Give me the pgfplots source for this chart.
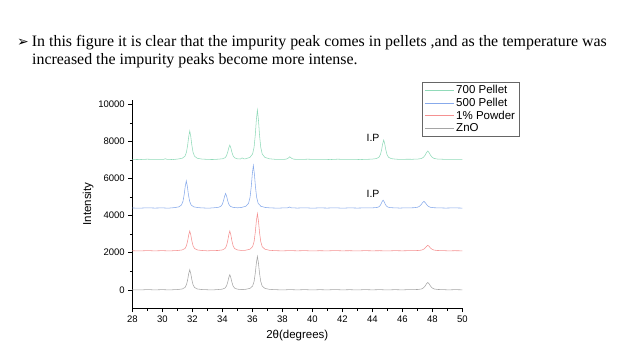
\documentclass[border=0pt]{standalone}
\usepackage{pgfplots}
\pgfplotsset{compat=1.18}
\usepackage{fontspec}
\setmainfont{Liberation Sans}
\newfontfamily\titlefont{Liberation Serif}
\newfontfamily\dejavu{DejaVu Sans}
\definecolor{cgreen}{RGB}{145,218,185}
\definecolor{cblue}{RGB}{135,170,235}
\definecolor{cred}{RGB}{245,145,145}
\definecolor{cgray}{RGB}{165,165,165}
\begin{document}
\begin{tikzpicture}
\useasboundingbox (0,0) rectangle (638bp,359bp);
\node[anchor=base west, inner sep=0pt, font=\titlefont\fontsize{15.9bp}{18bp}\selectfont] at (17bp,312bp) {{\dejavu\fontsize{14bp}{16bp}\selectfont ➢}\hspace{3bp}In this figure it is clear that the impurity peak comes in pellets ,and as the temperature was};
\node[anchor=base west, inner sep=0pt, font=\titlefont\fontsize{15.9bp}{18bp}\selectfont] at (32bp,294bp) {increased the impurity peaks become more intense.};
\begin{axis}[
  at={(132.3bp,50.7bp)}, anchor=south west,
  scale only axis, width=330bp, height=208.3bp,
  xmin=28, xmax=50, ymin=-1000, ymax=10232,
  axis lines=left, axis line style={-, black, line width=0.6pt},
  xtick={28,30,...,50}, minor x tick num=1,
  ytick={0,2000,...,10000}, minor y tick num=1,
  tick align=outside, major tick length=4bp, minor tick length=2.5bp,
  tick style={black, line width=0.5pt},
  scaled y ticks=false,
  /pgf/number format/assume math mode=true,
  yticklabel style={/pgf/number format/1000 sep={}},
  ticklabel style={font=\fontsize{9.5bp}{11bp}\selectfont},
  xlabel={2θ(degrees)}, ylabel={Intensity},
  label style={font=\fontsize{11.5bp}{13bp}\selectfont},
  xlabel style={yshift=-1bp},
  ylabel style={yshift=-2bp},
  legend cell align=left,
  legend style={at={(axis description cs:1.1727,1.0874)}, anchor=north east,
    draw=black!60, line width=0.5pt, font=\fontsize{11.5bp}{12bp}\selectfont,
    row sep=-1.2bp, inner xsep=2bp, inner ysep=1.5bp},
  legend image post style={line width=0.6pt},
  legend image code/.code={\draw[#1] (0bp,0bp) -- (29bp,0bp);},
  every axis plot/.append style={line width=0.55pt},
  clip=false,
]
% 700 Pellet
\addplot[cgreen] coordinates {
(28,7030)(28.5,7020)(29,7040)(29.5,7025)(30.1,7035)(30.2,7065)(30.3,7035)(30.7,7020)
(31.03,7048)(31.33,7091)(31.51,7198)(31.61,7413)(31.69,7795)(31.76,8254)(31.83,8560)(31.90,8254)(31.97,7795)(32.05,7413)(32.15,7198)(32.33,7091)(32.63,7048)
(33.0,7030)(33.35,7022)
(33.7,7039)(34.0,7061)(34.18,7115)(34.28,7223)(34.36,7415)(34.43,7646)(34.5,7800)(34.57,7646)(34.64,7415)(34.72,7223)(34.82,7115)(35.0,7061)
(35.2,7050)(35.32,7110)(35.44,7058)
(35.54,7062)(35.84,7136)(36.02,7323)(36.12,7695)(36.2,8360)(36.27,9158)(36.34,9690)(36.41,9158)(36.48,8360)(36.56,7695)(36.66,7323)(36.84,7136)(37.14,7062)
(37.5,7035)(37.9,7025)(38.25,7040)(38.38,7090)(38.5,7170)(38.62,7090)(38.75,7040)
(39.2,7025)(39.7,7040)(40.2,7025)(40.7,7035)(41.2,7020)(41.7,7040)(42.2,7025)(42.7,7035)(43.2,7020)(43.6,7032)
(43.96,7042)(44.26,7072)(44.44,7144)(44.54,7290)(44.62,7550)(44.69,7862)(44.76,8070)(44.83,7862)(44.90,7550)(44.98,7290)(45.08,7144)(45.26,7072)(45.56,7042)
(45.9,7025)(46.3,7038)
(46.66,7035)(47.05,7048)(47.28,7080)(47.41,7143)(47.52,7255)(47.61,7390)(47.7,7480)(47.79,7390)(47.88,7255)(47.99,7143)(48.12,7080)(48.35,7048)(48.74,7035)
(49.1,7025)(49.5,7035)(50,7025)
};
\addlegendentry{700 Pellet}
% 500 Pellet
\addplot[cblue] coordinates {
(28,4410)(28.5,4400)(29,4420)(29.5,4405)(30,4415)(30.4,4400)
(30.8,4428)(31.1,4468)(31.28,4571)(31.38,4775)(31.46,5140)(31.53,5578)(31.6,5870)(31.67,5578)(31.74,5140)(31.82,4775)(31.92,4571)(32.1,4468)(32.4,4428)
(32.75,4410)(33.1,4400)
(33.42,4419)(33.72,4441)(33.9,4496)(34.0,4605)(34.08,4800)(34.15,5034)(34.22,5190)(34.29,5034)(34.36,4800)(34.44,4605)(34.54,4496)(34.72,4441)(35.02,4419)
(35.27,4437)(35.57,4502)(35.75,4662)(35.85,4983)(35.93,5555)(36.0,6242)(36.07,6700)(36.14,6242)(36.21,5555)(36.29,4983)(36.39,4662)(36.57,4502)(36.87,4437)
(37.2,4415)(37.7,4400)(38.1,4415)(38.35,4420)(38.48,4460)(38.6,4420)
(39,4405)(39.5,4420)(40,4400)(40.5,4415)(41,4405)(41.5,4420)(42,4400)(42.5,4415)(43,4405)(43.5,4415)
(43.92,4415)(44.22,4427)(44.4,4456)(44.5,4515)(44.58,4620)(44.65,4746)(44.72,4830)(44.79,4746)(44.86,4620)(44.94,4515)(45.04,4456)(45.22,4427)(45.52,4415)
(45.85,4405)(46.15,4415)
(46.4,4414)(46.79,4424)(47.02,4450)(47.15,4500)(47.26,4590)(47.35,4698)(47.44,4770)(47.53,4698)(47.62,4590)(47.73,4500)(47.86,4450)(48.09,4424)(48.48,4414)
(48.9,4405)(49.4,4415)(50,4405)
};
\addlegendentry{500 Pellet}
% 1% Powder
\addplot[cred] coordinates {
(28,2105)(28.5,2095)(29,2110)(29.5,2098)(30,2108)(30.5,2095)
(31.03,2118)(31.33,2147)(31.51,2222)(31.61,2370)(31.69,2635)(31.76,2953)(31.83,3165)(31.90,2953)(31.97,2635)(32.05,2370)(32.15,2222)(32.33,2147)(32.63,2118)
(33.0,2100)(33.35,2110)
(33.7,2118)(34.0,2147)(34.18,2222)(34.28,2370)(34.36,2635)(34.43,2953)(34.5,3165)(34.57,2953)(34.64,2635)(34.72,2370)(34.82,2222)(35.0,2147)(35.3,2118)
(35.54,2129)(35.84,2185)(36.02,2325)(36.12,2605)(36.2,3105)(36.27,3705)(36.34,4105)(36.41,3705)(36.48,3105)(36.56,2605)(36.66,2325)(36.84,2185)(37.14,2129)
(37.5,2108)(38,2098)(38.5,2110)(39,2100)(39.5,2108)(40,2095)(40.5,2105)(41,2098)(41.5,2110)(42,2100)(42.5,2105)(43,2095)(43.5,2108)(44,2100)(44.5,2105)(45,2095)(45.5,2108)(46,2100)(46.3,2105)
(46.66,2108)(47.05,2117)(47.28,2137)(47.41,2178)(47.52,2250)(47.61,2337)(47.7,2395)(47.79,2337)(47.88,2250)(47.99,2178)(48.12,2137)(48.35,2117)(48.74,2108)
(49.1,2098)(49.5,2105)(50,2100)
};
\addlegendentry{1\% Powder}
% ZnO
\addplot[cgray] coordinates {
(28,0)(28.5,-10)(29,8)(29.5,-6)(30,5)(30.5,-8)
(31.03,13)(31.33,43)(31.51,119)(31.61,270)(31.69,540)(31.76,864)(31.83,1080)(31.90,864)(31.97,540)(32.05,270)(32.15,119)(32.33,43)(32.63,13)
(33.0,0)(33.35,-8)
(33.7,10)(34.0,32)(34.18,89)(34.28,203)(34.36,405)(34.43,648)(34.5,810)(34.57,648)(34.64,405)(34.72,203)(34.82,89)(35.0,32)(35.3,10)
(35.54,22)(35.84,72)(36.02,198)(36.12,450)(36.2,900)(36.27,1440)(36.34,1800)(36.41,1440)(36.48,900)(36.56,450)(36.66,198)(36.84,72)(37.14,22)
(37.5,5)(38,-8)(38.5,6)(39,-5)(39.5,5)(40,-8)(40.5,4)(41,-6)(41.5,8)(42,-5)(42.5,3)(43,-8)(43.5,6)(44,-4)(44.5,5)(45,-8)(45.5,4)(46,-5)(46.3,3)
(46.66,5)(47.05,16)(47.28,43)(47.41,99)(47.52,198)(47.61,316)(47.7,395)(47.79,316)(47.88,198)(47.99,99)(48.12,43)(48.35,16)(48.74,5)
(49.1,-6)(49.5,5)(50,-3)
};
\addlegendentry{ZnO}
\node[anchor=base, font=\fontsize{10.5bp}{12bp}\selectfont, inner sep=0pt] at (axis cs:44.05,7978) {I.P};
\node[anchor=base, font=\fontsize{10.5bp}{12bp}\selectfont, inner sep=0pt] at (axis cs:44.05,4989) {I.P};
\end{axis}
\end{tikzpicture}
\end{document}
